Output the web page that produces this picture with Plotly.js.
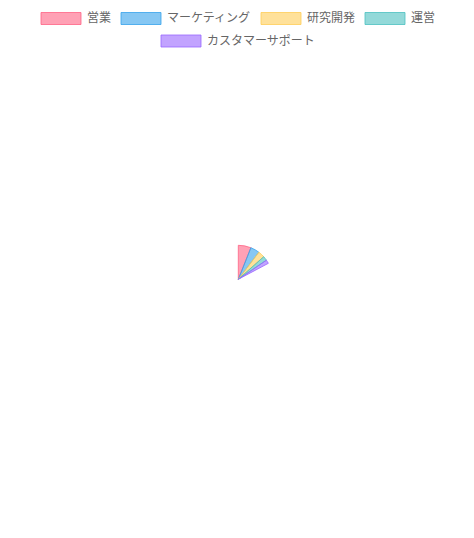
<!DOCTYPE html>
<html>
<head>
<meta charset="utf-8">
<script src="https://cdn.plot.ly/plotly-3.0.1.min.js"></script>
<style>
  html, body { margin: 0; padding: 0; background: #fff; }
  #chart { width: 474px; height: 538px; }
</style>
</head>
<body>
<div id="chart"></div>
<script>
// departments and their shares
const departments = ['営業', 'マーケティング', '研究開発', '運営', 'カスタマーサポート'];
const shares = [35, 25, 18, 12, 10];

const fills = ['rgba(255,99,132,0.6)', 'rgba(54,162,235,0.6)', 'rgba(255,205,86,0.6)',
  'rgba(75,192,192,0.6)', 'rgba(153,102,255,0.6)'];
const borders = ['rgba(255,99,132,0.8)', 'rgba(54,162,235,0.8)', 'rgba(255,205,86,0.8)',
  'rgba(75,192,192,0.8)', 'rgba(153,102,255,0.8)'];

// the picture was taken while the pie was still opening: only part of the sweep is drawn
const sweep = 62 / 360;

const W = 474, H = 538;
const cx = 238.3, cy = 279.3, rad = 34;

const total = shares.reduce((a, b) => a + b, 0);
const rest = total * (1 - sweep) / sweep;

const trace = {
  type: 'pie',
  labels: departments.concat(['']),
  values: shares.concat([rest]),
  sort: false,
  direction: 'clockwise',
  rotation: 0,
  textinfo: 'none',
  hoverinfo: 'skip',
  showlegend: false,
  marker: {
    colors: fills.concat(['rgba(0,0,0,0)']),
    line: { color: borders.concat(['rgba(0,0,0,0)']), width: 1 }
  },
  domain: {
    x: [(cx - rad) / W, (cx + rad) / W],
    y: [(H - cy - rad) / H, (H - cy + rad) / H]
  }
};

// legend drawn like the original: 40x12 boxes with the label after them
const legendPos = [[41, 18.5], [121, 18.5], [261, 18.5], [365, 18.5], [161, 41]];
const shapes = [];
const annotations = [];
departments.forEach((d, i) => {
  const [x, y] = legendPos[i];
  shapes.push({
    type: 'rect', xref: 'paper', yref: 'paper',
    x0: x / W, x1: (x + 40) / W, y0: (H - y - 6) / H, y1: (H - y + 6) / H,
    fillcolor: fills[i], line: { color: borders[i], width: 1 }
  });
  annotations.push({
    xref: 'paper', yref: 'paper', x: (x + 44) / W, y: (H - y) / H,
    xanchor: 'left', yanchor: 'middle', showarrow: false, text: d,
    font: { size: 12, color: '#666' }
  });
});

Plotly.newPlot('chart', [trace], {
  width: W, height: H,
  margin: { l: 0, r: 0, t: 0, b: 0 },
  paper_bgcolor: '#fff',
  font: { family: '"Liberation Sans", "Noto Sans CJK JP", sans-serif', color: '#666' },
  shapes: shapes,
  annotations: annotations
}, { displayModeBar: false, staticPlot: true });
</script>
</body>
</html>
